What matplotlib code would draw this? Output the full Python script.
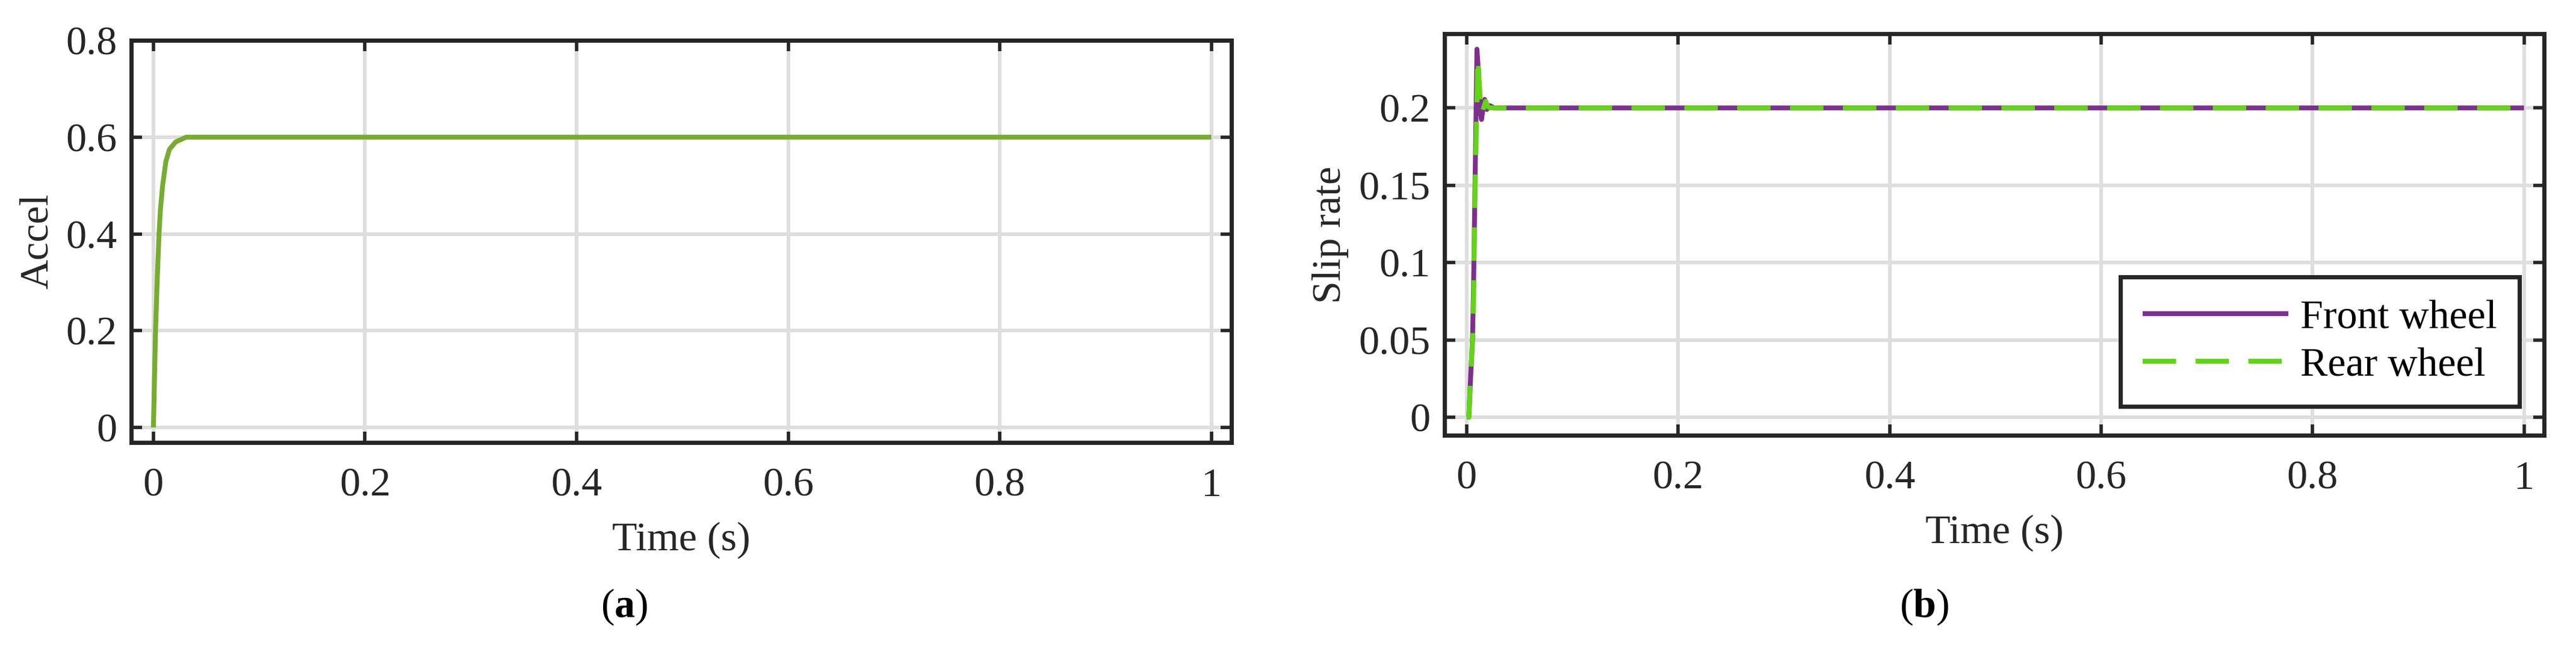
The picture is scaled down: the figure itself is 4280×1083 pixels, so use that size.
import matplotlib
matplotlib.use("Agg")
import matplotlib.pyplot as plt

# ---------------- data ----------------
t_accel = [0, 0.001, 0.002, 0.0035, 0.0053, 0.0066, 0.0087, 0.0118, 0.0152, 0.021, 0.031, 0.05, 1.0]
accel   = [0, 0.10, 0.20, 0.30, 0.40, 0.45, 0.50, 0.55, 0.575, 0.59, 0.60, 0.60, 0.60]

t_front = [0, 0.002, 0.004, 0.0055, 0.0065, 0.0075, 0.0085, 0.0097, 0.0110, 0.0125, 0.0140, 0.0155, 0.0170, 0.0190, 0.0220, 0.0260, 0.05, 1.0]
front   = [0, 0.0, 0.030, 0.050, 0.085, 0.133, 0.180, 0.238, 0.225, 0.200, 0.1925, 0.200, 0.2055, 0.199, 0.2015, 0.200, 0.200, 0.200]

t_rear  = [0, 0.002, 0.004, 0.0055, 0.0065, 0.0075, 0.0090, 0.0106, 0.0120, 0.0135, 0.0145, 0.0160, 0.0180, 0.0200, 0.0220, 0.05, 1.0]
rear    = [0, 0.0, 0.030, 0.050, 0.075, 0.133, 0.181, 0.2325, 0.215, 0.199, 0.196, 0.200, 0.2043, 0.201, 0.200, 0.200, 0.200]

x_ticks = [0, 0.2, 0.4, 0.6, 0.8, 1.0]
x_ticklabels = ["0", "0.2", "0.4", "0.6", "0.8", "1"]
a_yticks = [0, 0.2, 0.4, 0.6, 0.8]
a_yticklabels = ["0", "0.2", "0.4", "0.6", "0.8"]
b_yticks = [0, 0.05, 0.1, 0.15, 0.2]
b_yticklabels = ["0", "0.05", "0.1", "0.15", "0.2"]
series_labels = ["Front wheel", "Rear wheel"]

# ---------------- style ----------------
FS = 49
DARK = "#262626"
plt.rcParams["font.family"] = ["Liberation Serif", "DejaVu Serif"]
plt.rcParams["mathtext.fontset"] = "custom"
plt.rcParams["mathtext.rm"] = "Liberation Serif"
plt.rcParams["mathtext.bf"] = "Liberation Serif:bold"
plt.rcParams["font.size"] = FS

fig = plt.figure(figsize=(42.8, 10.83), dpi=100)

ax1 = fig.add_axes([218/4280, 1-735/1083, 1828/4280, 668/1083])
ax2 = fig.add_axes([2400/4280, 1-723/1083, 1827/4280, 667/1083])

def style(ax):
    for s in ax.spines.values():
        s.set_linewidth(5)
        s.set_color(DARK)
    ax.tick_params(direction="in", length=13, width=4, colors=DARK,
                   top=True, right=True, labelsize=FS)
    ax.tick_params(axis="x", pad=30)
    ax.tick_params(axis="y", pad=17)
    ax.grid(True, color="#dedede", linewidth=4.3)
    ax.set_axisbelow(True)
    ax.set_xticks(x_ticks)
    ax.set_xticklabels(x_ticklabels)
    ax.set_xlim(-0.021, 1.019)
    ax.set_xlabel("Time (s)", fontsize=FS, color=DARK, labelpad=21)

style(ax1)
style(ax2)

ax1.plot(t_accel, accel, color="#77AC30", linewidth=5.8, solid_capstyle="butt")
ax1.set_yticks(a_yticks)
ax1.set_yticklabels(a_yticklabels)
ax1.set_ylim(-0.031, 0.8)
ax1.set_ylabel("Accel", fontsize=FS, color=DARK, labelpad=12)

ax2.plot(t_front, front, color="#7E2F8E", linewidth=5.8, label=series_labels[0],
         solid_capstyle="butt")
ax2.plot(t_rear, rear, color="#62D516", linewidth=5.8, linestyle=(0, (6.9, 4.0)),
         label=series_labels[1], dash_capstyle="butt")
ax2.set_yticks(b_yticks)
ax2.set_yticklabels(b_yticklabels)
ax2.set_ylim(-0.0117, 0.248)
ax2.set_ylabel("Slip rate", fontsize=FS, color=DARK, labelpad=12)

leg = ax2.legend(loc="lower right", bbox_to_anchor=(0.9776, 0.072), borderaxespad=0,
                 fontsize=FS, fancybox=False, framealpha=1, edgecolor=DARK,
                 handlelength=3.55, handletextpad=0.3, labelspacing=0.25,
                 borderpad=0.55)
leg.get_frame().set_linewidth(5)

fig.text(1037/4280, 1-1008/1083, r"($\mathbf{a}$)", ha="center", va="center",
         fontsize=FS, color="black")
fig.text(3197/4280, 1-1008/1083, r"($\mathbf{b}$)", ha="center", va="center",
         fontsize=FS, color="black")

fig.savefig("out.png", dpi=100)
